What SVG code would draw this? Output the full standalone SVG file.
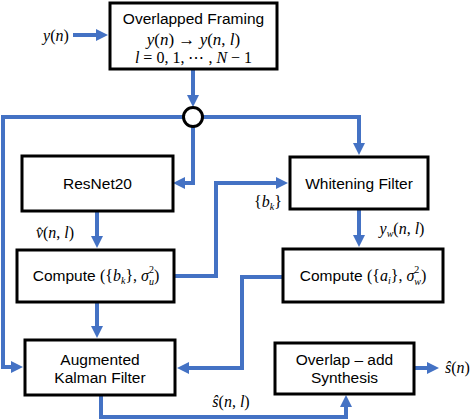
<svg xmlns="http://www.w3.org/2000/svg" width="474" height="420" viewBox="0 0 474 420">
<defs>
<marker id="ah" markerUnits="userSpaceOnUse" markerWidth="12" markerHeight="12" refX="2" refY="6" orient="auto">
<path d="M0,0 L12,6 L0,12 z" fill="#4472C4"/>
</marker>
<style>
.box{fill:#fff;stroke:#000;stroke-width:3}
.t{font-family:"Liberation Sans",Arial,sans-serif;font-size:15.5px;fill:#000;text-anchor:middle}
.m{font-family:"Liberation Serif","Times New Roman",serif;font-size:16px;fill:#000}
.i{font-style:italic}
.s{font-size:10px}
.c{fill:none;stroke:#4472C4;stroke-width:4}
.ca{fill:none;stroke:#4472C4;stroke-width:4;marker-end:url(#ah)}
</style>
</defs>
<rect width="474" height="420" fill="#fff"/>
<g id="connectors">
<path class="ca" d="M73,35 H98"/>
<path class="ca" d="M193,70 V97"/>
<path class="ca" d="M183.5,117 H3 V367 H13"/>
<path class="ca" d="M202.5,117 H359 V145"/>
<path class="ca" d="M193,127 V183 H183"/>
<path class="ca" d="M97,211 V238"/>
<path class="ca" d="M97,302 V328"/>
<path class="ca" d="M174,276 H216 V183 H278"/>
<path class="ca" d="M359,209 V237"/>
<path class="ca" d="M283,277 H242 V368 H187"/>
<path class="ca" d="M101,395 V417 H346 V405"/>
<path class="ca" d="M414,368 H429"/>
<circle cx="193" cy="117" r="9.5" fill="#fff" stroke="#000" stroke-width="3"/>
</g>
<g id="labels">
<text class="m" x="56" y="41" text-anchor="middle"><tspan class="i">y</tspan>(<tspan class="i">n</tspan>)</text>
<text class="m" x="55" y="238" text-anchor="middle"><tspan class="i">v̂</tspan>(<tspan class="i">n</tspan>, <tspan class="i">l</tspan>)</text>
<text class="m" x="268" y="207" text-anchor="middle">{<tspan class="i">b</tspan><tspan class="i s" dy="3">k</tspan><tspan dy="-3">}</tspan></text>
<text class="m" x="402" y="234" text-anchor="middle"><tspan class="i">y</tspan><tspan class="i s" dy="3">w</tspan><tspan dy="-3">(</tspan><tspan class="i">n</tspan>, <tspan class="i">l</tspan>)</text>
<text class="m" x="231" y="407" text-anchor="middle"><tspan class="i">ŝ</tspan>(<tspan class="i">n</tspan>, <tspan class="i">l</tspan>)</text>
<text class="m" x="445" y="373"><tspan class="i">ŝ</tspan>(<tspan class="i">n</tspan>)</text>
</g>
<g id="framing">
<rect class="box" x="110" y="3" width="167" height="66"/>
<text class="t" x="193.5" y="24">Overlapped Framing</text>
<text class="m" x="193.5" y="45" text-anchor="middle" style="font-size:17px"><tspan class="i">y</tspan>(<tspan class="i">n</tspan>) → <tspan class="i">y</tspan>(<tspan class="i">n</tspan>, <tspan class="i">l</tspan>)</text>
<text class="m" x="193.5" y="63" text-anchor="middle"><tspan class="i">l</tspan> = 0, 1, ⋯ , <tspan class="i">N</tspan> − 1</text>
</g>
<g id="resnet">
<rect class="box" x="22" y="156" width="151" height="55"/>
<text class="t" x="97.5" y="189">ResNet20</text>
</g>
<g id="whitening">
<rect class="box" x="290" y="157" width="138" height="52"/>
<text class="t" x="359" y="189">Whitening Filter</text>
</g>
<g id="compute-b">
<rect class="box" x="17" y="250" width="157" height="52"/>
<text class="t" x="96" y="281">Compute <tspan class="m">({<tspan class="i">b</tspan><tspan class="i s" dy="3">k</tspan><tspan dy="-3">}, </tspan><tspan class="i">σ</tspan><tspan class="s" dy="-8">2</tspan><tspan class="i s" dx="-5" dy="12">u</tspan><tspan dy="-4">)</tspan></tspan></text>
</g>
<g id="compute-a">
<rect class="box" x="283" y="249" width="160" height="53"/>
<text class="t" x="363" y="281">Compute <tspan class="m">({<tspan class="i">a</tspan><tspan class="i s" dy="3">i</tspan><tspan dy="-3">}, </tspan><tspan class="i">σ</tspan><tspan class="s" dy="-8">2</tspan><tspan class="i s" dx="-5" dy="12">w</tspan><tspan dy="-4">)</tspan></tspan></text>
</g>
<g id="kalman">
<rect class="box" x="25" y="340" width="150" height="55"/>
<text class="t" x="100" y="365">Augmented</text>
<text class="t" x="100" y="383">Kalman Filter</text>
</g>
<g id="overlap-add">
<rect class="box" x="275" y="343" width="139" height="51"/>
<text class="t" x="344.5" y="365">Overlap – add</text>
<text class="t" x="344.5" y="383">Synthesis</text>
</g>
</svg>
